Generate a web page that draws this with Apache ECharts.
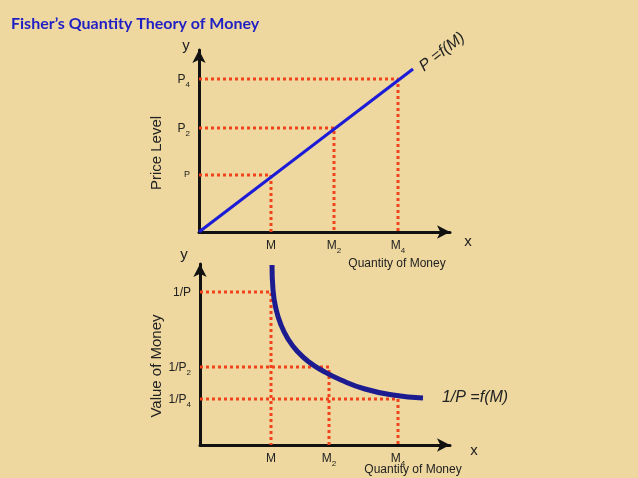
<!DOCTYPE html>
<html>
<head>
<meta charset="utf-8">
<script src="https://cdn.jsdelivr.net/npm/echarts@6/dist/echarts.min.js"></script>
<style>
html,body{margin:0;padding:0;background:#eed8a0;}
#c{width:638px;height:478px;}
</style>
</head>
<body>
<div id="c"></div>
<script>
// ---- Data (abstract units) ----
const topXTicks = [72, 135, 199];
const topXLabels = ['M', 'M_2', 'M_4'];
const priceLevels = [57, 104, 153];
const priceLabels = ['P', 'P_2', 'P_4'];
const priceLineX = [0, 214];
const priceLineY = [0, 163];

const botXTicks = [71, 129, 198];
const botXLabels = ['M', 'M_2', 'M_4'];
const valueLevels = [153, 78, 46];
const valueLabels = ['1/P', '1/P_2', '1/P_4'];
const curveX = [72, 73, 76, 81, 88, 97, 109, 123, 141, 165, 193, 223];
const curveY = [180, 155, 136, 120, 106, 94, 83, 74, 65, 56, 50, 47];

// ---- Styling ----
const FONT = '"Liberation Sans", Arial, sans-serif';
const TXT = '#222';
const DOT = '#f0431c';

function richLabel(s) {
  const parts = s.split('_');
  return parts[1] ? '{b|' + parts[0] + '}{s|' + parts[1] + '}' : '{b|' + parts[0] + '}';
}
const rich = {
  b: {fontSize: 12, fontFamily: FONT, color: TXT, lineHeight: 14, verticalAlign: 'bottom'},
  p: {fontSize: 9, fontFamily: FONT, color: TXT, lineHeight: 14},
  s: {fontSize: 8, fontFamily: FONT, color: TXT, lineHeight: 14, verticalAlign: 'bottom', padding: [0, 0, -3, 0]}
};

function axisLine() {
  return {show: true, symbol: ['none', 'arrow'], symbolSize: [10, 13], lineStyle: {color: '#111', width: 3}};
}
function xAx(grid, max, ticks, labels) {
  return {
    type: 'value', gridIndex: grid, min: 0, max: max,
    axisLine: axisLine(), axisTick: {show: false}, splitLine: {show: false},
    axisLabel: {
      show: true, customValues: ticks, margin: 6, rich: rich,
      formatter: v => richLabel(labels[ticks.indexOf(v)] || '')
    }
  };
}
function yAx(grid, max, ticks, labels, smallFirst) {
  return {
    type: 'value', gridIndex: grid, min: 0, max: max,
    axisLine: axisLine(), axisTick: {show: false}, splitLine: {show: false},
    axisLabel: {
      show: true, customValues: ticks, margin: 9, rich: rich,
      formatter: v => {
        const l = labels[ticks.indexOf(v)] || '';
        if (smallFirst && l === 'P') return '{p|P}';
        return richLabel(l);
      }
    }
  };
}

const series = [];
// dotted guide lines, top
priceLevels.forEach((p, i) => {
  series.push({
    type: 'line', xAxisIndex: 0, yAxisIndex: 0, symbol: 'none', z: 1, silent: true,
    data: [[0, p], [topXTicks[i], p], [topXTicks[i], 0]],
    lineStyle: {color: DOT, width: 3, type: [3, 3]}
  });
});
// dotted guide lines, bottom
valueLevels.forEach((v, i) => {
  series.push({
    type: 'line', xAxisIndex: 1, yAxisIndex: 1, symbol: 'none', z: 1, silent: true,
    data: [[0, v], [botXTicks[i], v], [botXTicks[i], 0]],
    lineStyle: {color: DOT, width: 3, type: [3, 3]}
  });
});
// P = f(M)
series.push({
  type: 'line', xAxisIndex: 0, yAxisIndex: 0, symbol: 'none', z: 3, clip: false,
  data: priceLineX.map((x, i) => [x, priceLineY[i]]),
  lineStyle: {color: '#1c1cd6', width: 3}
});
// 1/P = f(M)
series.push({
  type: 'line', xAxisIndex: 1, yAxisIndex: 1, symbol: 'none', z: 3, clip: false, smooth: 0.5,
  data: curveX.map((x, i) => [x, curveY[i]]),
  lineStyle: {color: '#1c1c90', width: 5}
});

function txt(x, y, text, opts) {
  return Object.assign({
    type: 'text', x: x, y: y,
    style: Object.assign({text: text, fill: TXT, font: '12px ' + FONT, align: 'center', verticalAlign: 'middle'}, opts && opts.style || {})
  }, opts && opts.el || {});
}

const option = {
  backgroundColor: '#eed8a0',
  animation: false,
  title: {
    text: 'Fisher\u2019s Quantity Theory of Money', left: 6, top: 11,
    textStyle: {color: '#1f1fc4', fontFamily: 'Lato, "Open Sans", sans-serif', fontWeight: 'bold', fontSize: 16}
  },
  grid: [
    {left: 199, top: 50, width: 251, height: 182},
    {left: 200, top: 264, width: 250, height: 181}
  ],
  xAxis: [xAx(0, 251, topXTicks, topXLabels), xAx(1, 250, botXTicks, botXLabels)],
  yAxis: [yAx(0, 182, priceLevels, priceLabels, true), yAx(1, 181, valueLevels, valueLabels, false)],
  series: series,
  graphic: [
    txt(186, 46, 'y', {style: {font: '15px ' + FONT}}),
    txt(468, 242, 'x', {style: {font: '15px ' + FONT}}),
    txt(184, 255, 'y', {style: {font: '15px ' + FONT}}),
    txt(474, 451, 'x', {style: {font: '15px ' + FONT}}),
    txt(397, 264, 'Quantity of Money', {style: {font: '12px ' + FONT}}),
    txt(413, 470, 'Quantity of Money', {style: {font: '12px ' + FONT}}),
    txt(157, 153, 'Price Level', {style: {font: '15px ' + FONT}, el: {rotation: Math.PI / 2}}),
    txt(157, 366, 'Value of Money', {style: {font: '15px ' + FONT}, el: {rotation: Math.PI / 2}}),
    txt(442, 52, 'P =f(M)', {style: {font: 'italic 16px ' + FONT}, el: {rotation: 38 * Math.PI / 180}}),
    txt(475, 398, '1/P =f(M)', {style: {font: 'italic 16px ' + FONT}})
  ]
};

const chart = echarts.init(document.getElementById('c'), null, {renderer: 'canvas'});
chart.setOption(option);
</script>
</body>
</html>
